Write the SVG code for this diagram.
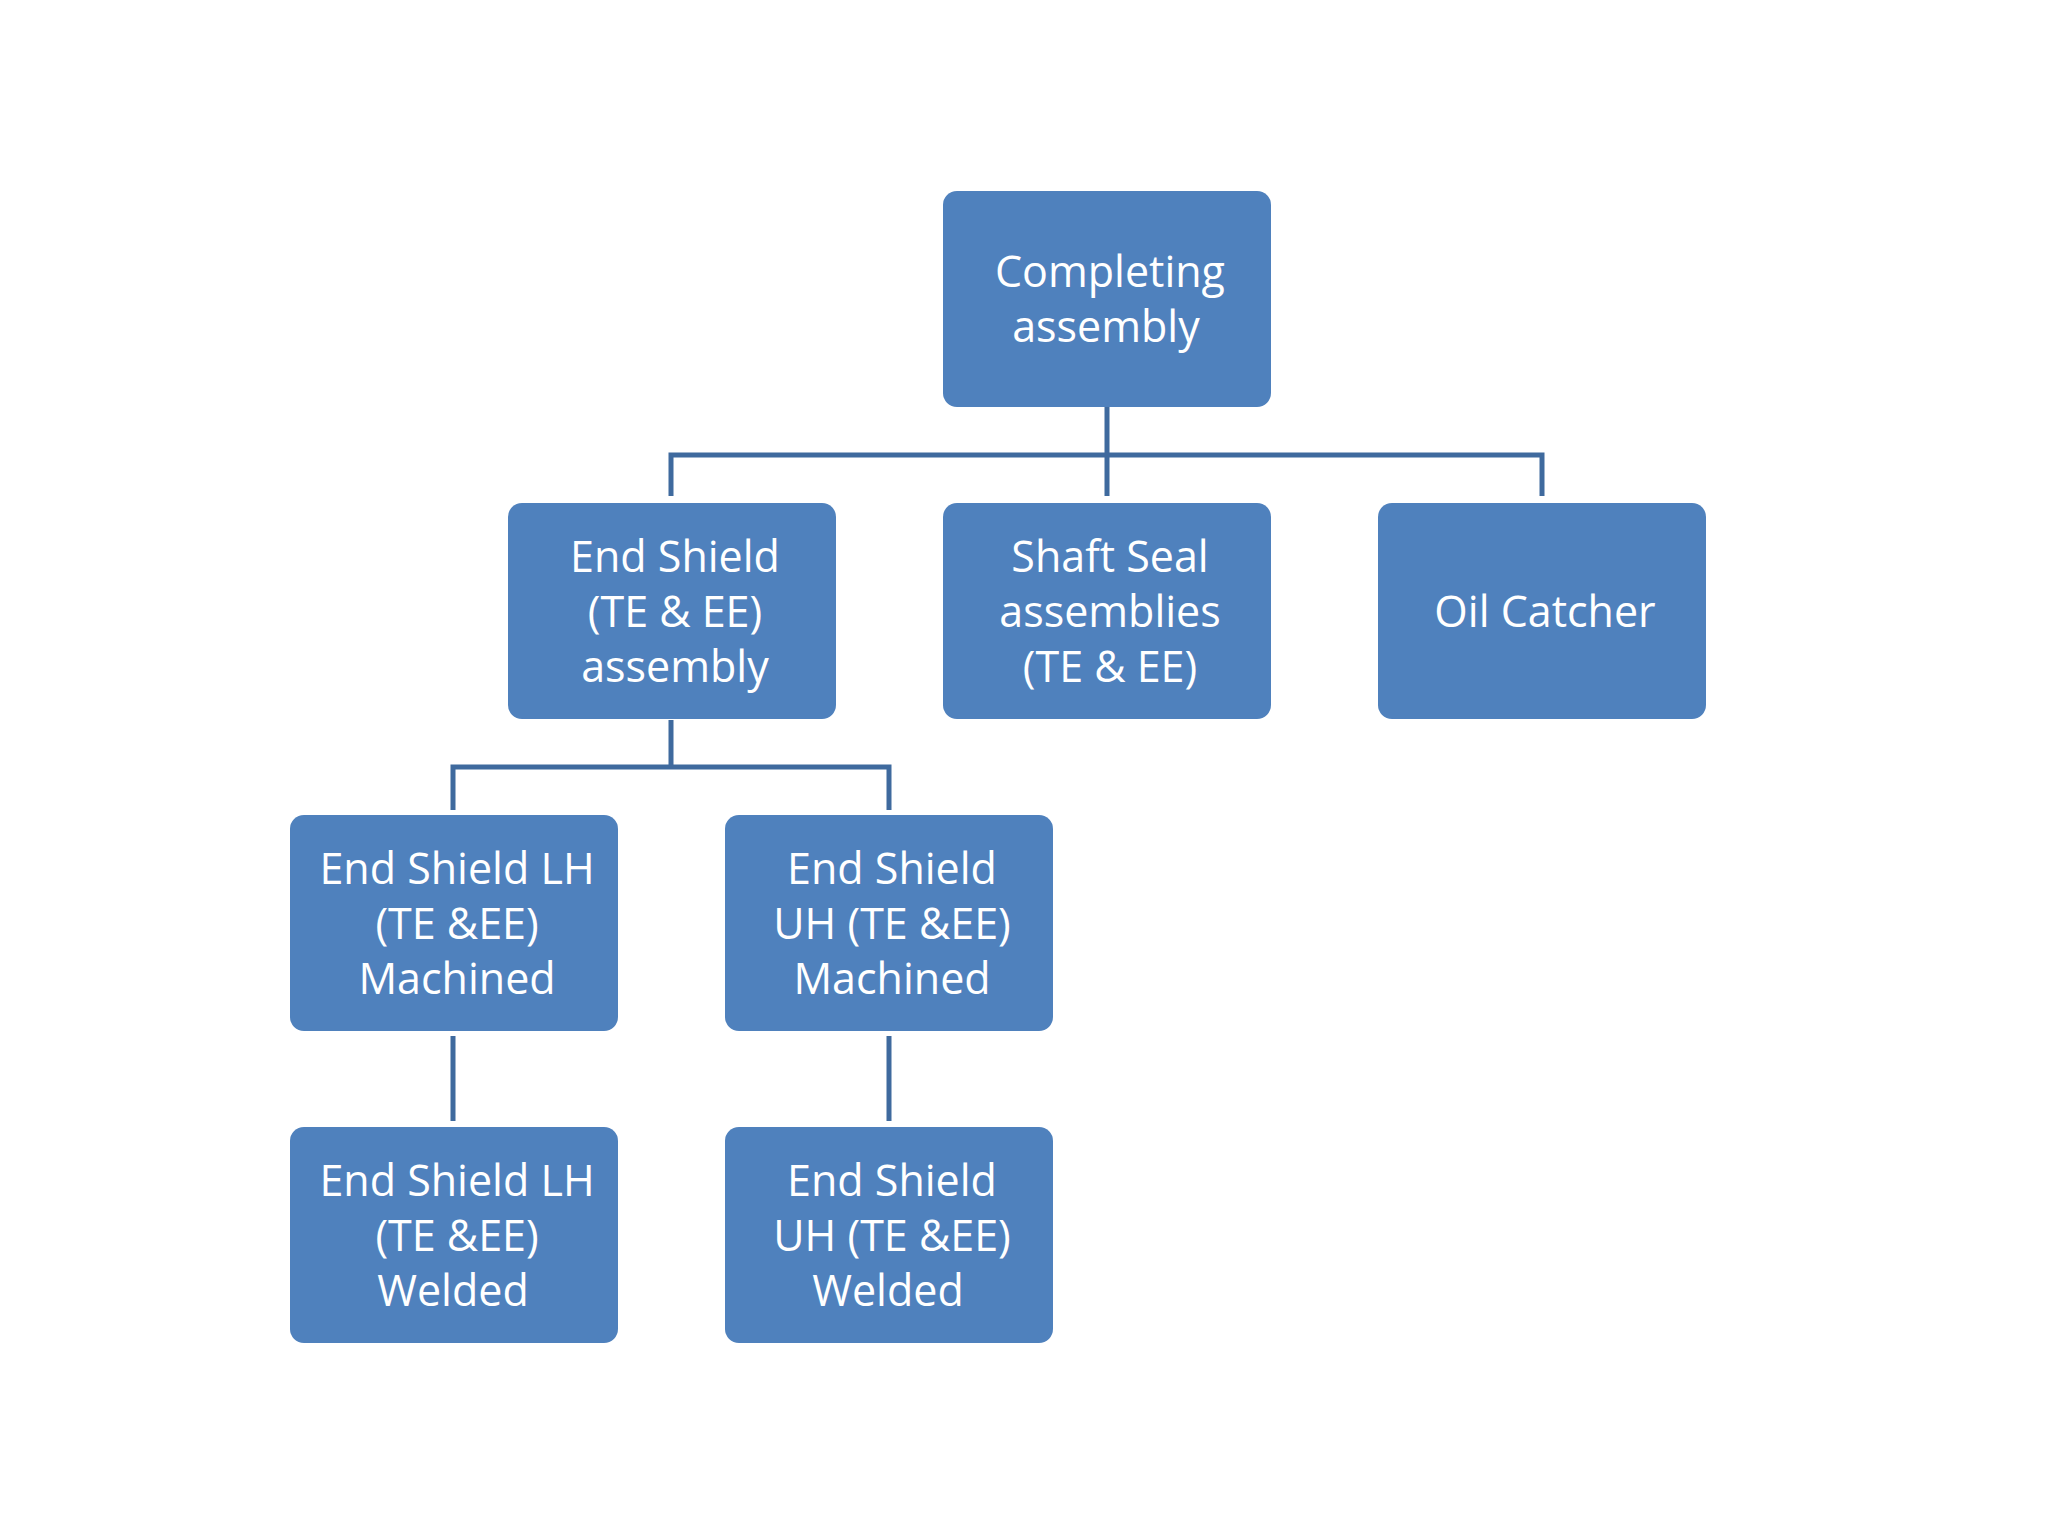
<svg xmlns="http://www.w3.org/2000/svg" width="2048" height="1536" viewBox="0 0 2048 1536">
<style>
.b{fill:#4F81BD}
.t{fill:#fff;font-family:"Open Sans","Liberation Sans",sans-serif;font-size:43px;text-anchor:middle}
.c{fill:none;stroke:#3F6A9E;stroke-width:5}
</style>
<rect width="2048" height="1536" fill="#fff"/>
<g id="connectors" class="c">
<path d="M1107 407V455M671 496V455H1542V496M1107 455V496"/>
<path d="M671 720V767M453 810V767H889V810"/>
<path d="M453 1036V1121M889 1036V1121"/>
</g>
<g id="n1"><rect class="b" x="943" y="191" width="328" height="216" rx="14"/><text class="t" x="1110" y="287">Completing<tspan x="1106" dy="55">assembly</tspan></text></g>
<g id="n2"><rect class="b" x="508" y="503" width="328" height="216" rx="14"/><text class="t" x="675" y="572">End Shield<tspan x="675" dy="55">(TE &amp; EE)</tspan><tspan x="675" dy="55">assembly</tspan></text></g>
<g id="n3"><rect class="b" x="943" y="503" width="328" height="216" rx="14"/><text class="t" x="1110" y="572">Shaft Seal<tspan x="1110" dy="55">assemblies</tspan><tspan x="1110" dy="55">(TE &amp; EE)</tspan></text></g>
<g id="n4"><rect class="b" x="1378" y="503" width="328" height="216" rx="14"/><text class="t" x="1545" y="627">Oil Catcher</text></g>
<g id="n5"><rect class="b" x="290" y="815" width="328" height="216" rx="14"/><text class="t" x="457" y="884">End Shield LH<tspan x="457" dy="55">(TE &amp;EE)</tspan><tspan x="457" dy="55">Machined</tspan></text></g>
<g id="n6"><rect class="b" x="725" y="815" width="328" height="216" rx="14"/><text class="t" x="892" y="884">End Shield<tspan x="892" dy="55">UH (TE &amp;EE)</tspan><tspan x="892" dy="55">Machined</tspan></text></g>
<g id="n7"><rect class="b" x="290" y="1127" width="328" height="216" rx="14"/><text class="t" x="457" y="1196">End Shield LH<tspan x="457" dy="55">(TE &amp;EE)</tspan><tspan x="453" dy="55">Welded</tspan></text></g>
<g id="n8"><rect class="b" x="725" y="1127" width="328" height="216" rx="14"/><text class="t" x="892" y="1196">End Shield<tspan x="892" dy="55">UH (TE &amp;EE)</tspan><tspan x="888" dy="55">Welded</tspan></text></g>
</svg>
